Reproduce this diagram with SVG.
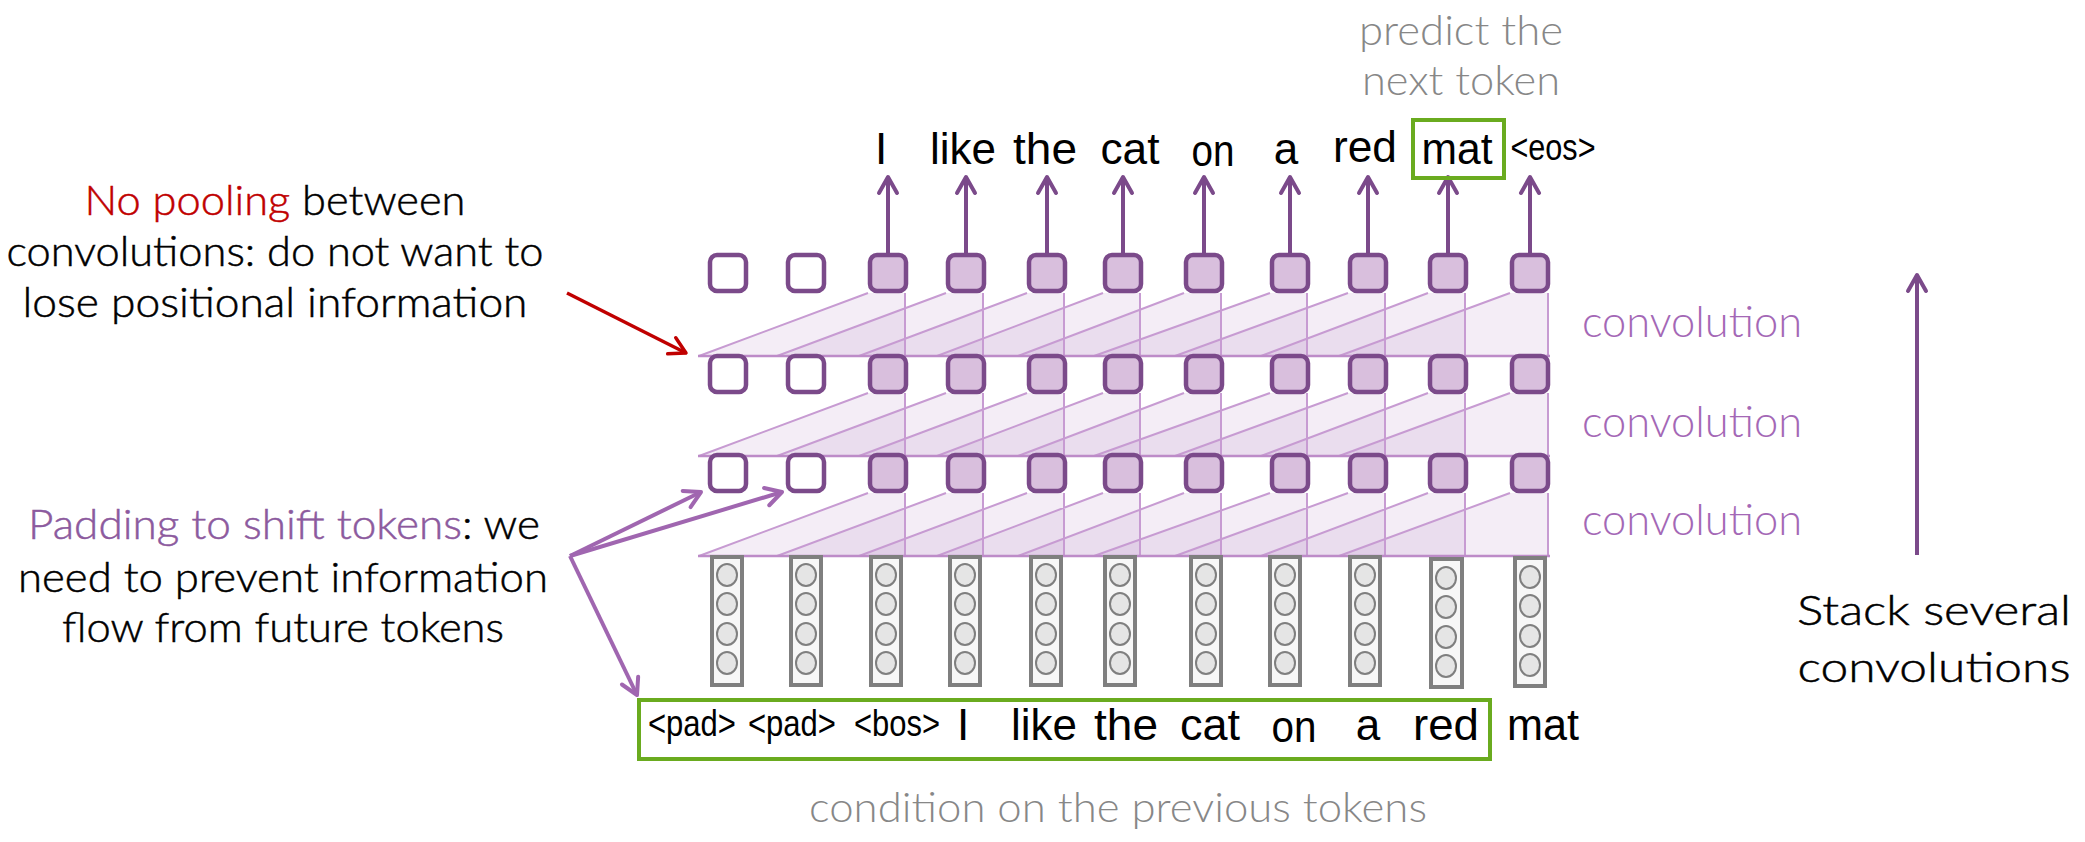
<svg xmlns="http://www.w3.org/2000/svg" width="2085" height="842" viewBox="0 0 2085 842">
<style>
.box{fill:#fff;stroke:#7b4a8a;stroke-width:4.5}
.f{fill:#d9bfdd}
.vec{fill:#f7f7f7;stroke:#7f7f7f;stroke-width:4}
.dot{fill:#e5e5e5;stroke:#7f7f7f;stroke-width:2}
.tok{font-family:"Liberation Sans",Arial,sans-serif;font-size:44px;fill:#000;text-anchor:middle}
.sm{font-size:36px}
.note{font-family:Lato,"Liberation Sans",sans-serif;font-size:42px;fill:#000;font-weight:300;stroke:#000;stroke-width:0.5}
.mid{text-anchor:middle}
.gray{fill:#878787;stroke:none}
.conv{fill:#a468b6;font-size:43px;stroke:none}
.fill{fill:#a86cb8;fill-opacity:0.12;stroke:none}
.edge{fill:none;stroke:#c79bd2;stroke-width:2}
.hline{fill:none;stroke:#bd8bc8;stroke-width:2.5}
.arr{fill:none;stroke:#7b4a8a;stroke-width:4}
.parr{fill:none;stroke:#a066b0;stroke-width:4}
.rarr{fill:none;stroke:#c00000;stroke-width:3.5}
.green{fill:none;stroke:#6aab1f;stroke-width:4}
</style>
<defs>
<marker id="ahP" viewBox="-20 -12 24 24" markerWidth="24" markerHeight="24" refX="0" refY="0" orient="auto" markerUnits="userSpaceOnUse"><path d="M-16,-9 L0,0 L-16,9" fill="none" stroke="#7b4a8a" stroke-width="4" stroke-linecap="round" stroke-linejoin="round"/></marker>
<marker id="ahL" viewBox="-20 -12 24 24" markerWidth="24" markerHeight="24" refX="0" refY="0" orient="auto" markerUnits="userSpaceOnUse"><path d="M-16,-9 L0,0 L-16,9" fill="none" stroke="#a066b0" stroke-width="4" stroke-linecap="round" stroke-linejoin="round"/></marker>
<marker id="ahR" viewBox="-20 -12 24 24" markerWidth="24" markerHeight="24" refX="0" refY="0" orient="auto" markerUnits="userSpaceOnUse"><path d="M-16,-9 L0,0 L-16,9" fill="none" stroke="#c00000" stroke-width="3.5" stroke-linecap="round" stroke-linejoin="round"/></marker>
<g id="band">
<polygon class="fill" points="868,0 905,0 905,63 699,63"/>
<polygon class="fill" points="946,0 983,0 983,63 777,63"/>
<polygon class="fill" points="1027,0 1064,0 1064,63 859,63"/>
<polygon class="fill" points="1103,0 1140,0 1140,63 937,63"/>
<polygon class="fill" points="1184,0 1221,0 1221,63 1018,63"/>
<polygon class="fill" points="1270,0 1307,0 1307,63 1094,63"/>
<polygon class="fill" points="1348,0 1385,0 1385,63 1175,63"/>
<polygon class="fill" points="1428,0 1465,0 1465,63 1261,63"/>
<polygon class="fill" points="1510,0 1548,0 1548,63 1339,63"/>
<path class="edge" d="M868,0 L699,63 M946,0 L777,63 M1027,0 L859,63 M1103,0 L937,63 M1184,0 L1018,63 M1270,0 L1094,63 M1348,0 L1175,63 M1428,0 L1261,63 M1510,0 L1339,63 M905,0 V63 M983,0 V63 M1064,0 V63 M1140,0 V63 M1221,0 V63 M1307,0 V63 M1385,0 V63 M1465,0 V63 M1548,0 V63"/>
<path class="hline" d="M698,63 H1550"/>
</g>
</defs>
<rect width="2085" height="842" fill="#fff"/>

<g id="connectors">
<use href="#band" y="293"/>
<use href="#band" y="393"/>
<use href="#band" y="493"/>
<path class="arr" marker-end="url(#ahP)" d="M888,253 V177"/>
<path class="arr" marker-end="url(#ahP)" d="M966,253 V177"/>
<path class="arr" marker-end="url(#ahP)" d="M1047,253 V177"/>
<path class="arr" marker-end="url(#ahP)" d="M1123,253 V177"/>
<path class="arr" marker-end="url(#ahP)" d="M1204,253 V177"/>
<path class="arr" marker-end="url(#ahP)" d="M1290,253 V177"/>
<path class="arr" marker-end="url(#ahP)" d="M1368,253 V177"/>
<path class="arr" marker-end="url(#ahP)" d="M1448,253 V177"/>
<path class="arr" marker-end="url(#ahP)" d="M1530,253 V177"/>
<path class="arr" marker-end="url(#ahP)" d="M1917,555 V275"/>
<path class="rarr" marker-end="url(#ahR)" d="M567,293 L686,353"/>
<path class="parr" marker-end="url(#ahL)" d="M570,556 L701,492"/>
<path class="parr" marker-end="url(#ahL)" d="M570,556 L782,492"/>
<path class="parr" marker-end="url(#ahL)" d="M570,556 L637,695"/>
</g>

<g id="row1">
<g id="r1n1"><rect class="box" x="710" y="255" width="36" height="36" rx="7"/></g>
<g id="r1n2"><rect class="box" x="788" y="255" width="36" height="36" rx="7"/></g>
<g id="r1n3"><rect class="box f" x="870" y="255" width="36" height="36" rx="7"/></g>
<g id="r1n4"><rect class="box f" x="948" y="255" width="36" height="36" rx="7"/></g>
<g id="r1n5"><rect class="box f" x="1029" y="255" width="36" height="36" rx="7"/></g>
<g id="r1n6"><rect class="box f" x="1105" y="255" width="36" height="36" rx="7"/></g>
<g id="r1n7"><rect class="box f" x="1186" y="255" width="36" height="36" rx="7"/></g>
<g id="r1n8"><rect class="box f" x="1272" y="255" width="36" height="36" rx="7"/></g>
<g id="r1n9"><rect class="box f" x="1350" y="255" width="36" height="36" rx="7"/></g>
<g id="r1n10"><rect class="box f" x="1430" y="255" width="36" height="36" rx="7"/></g>
<g id="r1n11"><rect class="box f" x="1512" y="255" width="36" height="36" rx="7"/></g>
</g>
<g id="row2">
<g id="r2n1"><rect class="box" x="710" y="356" width="36" height="36" rx="7"/></g>
<g id="r2n2"><rect class="box" x="788" y="356" width="36" height="36" rx="7"/></g>
<g id="r2n3"><rect class="box f" x="870" y="356" width="36" height="36" rx="7"/></g>
<g id="r2n4"><rect class="box f" x="948" y="356" width="36" height="36" rx="7"/></g>
<g id="r2n5"><rect class="box f" x="1029" y="356" width="36" height="36" rx="7"/></g>
<g id="r2n6"><rect class="box f" x="1105" y="356" width="36" height="36" rx="7"/></g>
<g id="r2n7"><rect class="box f" x="1186" y="356" width="36" height="36" rx="7"/></g>
<g id="r2n8"><rect class="box f" x="1272" y="356" width="36" height="36" rx="7"/></g>
<g id="r2n9"><rect class="box f" x="1350" y="356" width="36" height="36" rx="7"/></g>
<g id="r2n10"><rect class="box f" x="1430" y="356" width="36" height="36" rx="7"/></g>
<g id="r2n11"><rect class="box f" x="1512" y="356" width="36" height="36" rx="7"/></g>
</g>
<g id="row3">
<g id="r3n1"><rect class="box" x="710" y="455" width="36" height="36" rx="7"/></g>
<g id="r3n2"><rect class="box" x="788" y="455" width="36" height="36" rx="7"/></g>
<g id="r3n3"><rect class="box f" x="870" y="455" width="36" height="36" rx="7"/></g>
<g id="r3n4"><rect class="box f" x="948" y="455" width="36" height="36" rx="7"/></g>
<g id="r3n5"><rect class="box f" x="1029" y="455" width="36" height="36" rx="7"/></g>
<g id="r3n6"><rect class="box f" x="1105" y="455" width="36" height="36" rx="7"/></g>
<g id="r3n7"><rect class="box f" x="1186" y="455" width="36" height="36" rx="7"/></g>
<g id="r3n8"><rect class="box f" x="1272" y="455" width="36" height="36" rx="7"/></g>
<g id="r3n9"><rect class="box f" x="1350" y="455" width="36" height="36" rx="7"/></g>
<g id="r3n10"><rect class="box f" x="1430" y="455" width="36" height="36" rx="7"/></g>
<g id="r3n11"><rect class="box f" x="1512" y="455" width="36" height="36" rx="7"/></g>
</g>

<g id="embeddings">
<g id="v1"><rect class="vec" x="712" y="557" width="30" height="128"/><ellipse class="dot" cx="727" cy="575" rx="10" ry="11"/><ellipse class="dot" cx="727" cy="604" rx="10" ry="11"/><ellipse class="dot" cx="727" cy="634" rx="10" ry="11"/><ellipse class="dot" cx="727" cy="663" rx="10" ry="11"/></g>
<g id="v2"><rect class="vec" x="791" y="557" width="30" height="128"/><ellipse class="dot" cx="806" cy="575" rx="10" ry="11"/><ellipse class="dot" cx="806" cy="604" rx="10" ry="11"/><ellipse class="dot" cx="806" cy="634" rx="10" ry="11"/><ellipse class="dot" cx="806" cy="663" rx="10" ry="11"/></g>
<g id="v3"><rect class="vec" x="871" y="557" width="30" height="128"/><ellipse class="dot" cx="886" cy="575" rx="10" ry="11"/><ellipse class="dot" cx="886" cy="604" rx="10" ry="11"/><ellipse class="dot" cx="886" cy="634" rx="10" ry="11"/><ellipse class="dot" cx="886" cy="663" rx="10" ry="11"/></g>
<g id="v4"><rect class="vec" x="950" y="557" width="30" height="128"/><ellipse class="dot" cx="965" cy="575" rx="10" ry="11"/><ellipse class="dot" cx="965" cy="604" rx="10" ry="11"/><ellipse class="dot" cx="965" cy="634" rx="10" ry="11"/><ellipse class="dot" cx="965" cy="663" rx="10" ry="11"/></g>
<g id="v5"><rect class="vec" x="1031" y="557" width="30" height="128"/><ellipse class="dot" cx="1046" cy="575" rx="10" ry="11"/><ellipse class="dot" cx="1046" cy="604" rx="10" ry="11"/><ellipse class="dot" cx="1046" cy="634" rx="10" ry="11"/><ellipse class="dot" cx="1046" cy="663" rx="10" ry="11"/></g>
<g id="v6"><rect class="vec" x="1105" y="557" width="30" height="128"/><ellipse class="dot" cx="1120" cy="575" rx="10" ry="11"/><ellipse class="dot" cx="1120" cy="604" rx="10" ry="11"/><ellipse class="dot" cx="1120" cy="634" rx="10" ry="11"/><ellipse class="dot" cx="1120" cy="663" rx="10" ry="11"/></g>
<g id="v7"><rect class="vec" x="1191" y="557" width="30" height="128"/><ellipse class="dot" cx="1206" cy="575" rx="10" ry="11"/><ellipse class="dot" cx="1206" cy="604" rx="10" ry="11"/><ellipse class="dot" cx="1206" cy="634" rx="10" ry="11"/><ellipse class="dot" cx="1206" cy="663" rx="10" ry="11"/></g>
<g id="v8"><rect class="vec" x="1270" y="557" width="30" height="128"/><ellipse class="dot" cx="1285" cy="575" rx="10" ry="11"/><ellipse class="dot" cx="1285" cy="604" rx="10" ry="11"/><ellipse class="dot" cx="1285" cy="634" rx="10" ry="11"/><ellipse class="dot" cx="1285" cy="663" rx="10" ry="11"/></g>
<g id="v9"><rect class="vec" x="1350" y="557" width="30" height="128"/><ellipse class="dot" cx="1365" cy="575" rx="10" ry="11"/><ellipse class="dot" cx="1365" cy="604" rx="10" ry="11"/><ellipse class="dot" cx="1365" cy="634" rx="10" ry="11"/><ellipse class="dot" cx="1365" cy="663" rx="10" ry="11"/></g>
<g id="v10"><rect class="vec" x="1431" y="559" width="31" height="128"/><ellipse class="dot" cx="1446" cy="578" rx="10" ry="11"/><ellipse class="dot" cx="1446" cy="607" rx="10" ry="11"/><ellipse class="dot" cx="1446" cy="637" rx="10" ry="11"/><ellipse class="dot" cx="1446" cy="666" rx="10" ry="11"/></g>
<g id="v11"><rect class="vec" x="1515" y="558" width="30" height="128"/><ellipse class="dot" cx="1530" cy="577" rx="10" ry="11"/><ellipse class="dot" cx="1530" cy="606" rx="10" ry="11"/><ellipse class="dot" cx="1530" cy="636" rx="10" ry="11"/><ellipse class="dot" cx="1530" cy="665" rx="10" ry="11"/></g>
</g>

<g id="output-tokens">
<rect class="green" x="1413" y="120" width="91" height="58"/>
<text class="tok" x="881" y="164">I</text>
<text class="tok" x="963" y="164" textLength="66" lengthAdjust="spacingAndGlyphs">like</text>
<text class="tok" x="1045" y="164" textLength="64" lengthAdjust="spacingAndGlyphs">the</text>
<text class="tok" x="1130" y="164" textLength="59" lengthAdjust="spacingAndGlyphs">cat</text>
<text class="tok" x="1213" y="166" textLength="43" lengthAdjust="spacingAndGlyphs">on</text>
<text class="tok" x="1286" y="164">a</text>
<text class="tok" x="1365" y="162" textLength="64" lengthAdjust="spacingAndGlyphs">red</text>
<text class="tok" x="1457" y="164" textLength="71" lengthAdjust="spacingAndGlyphs">mat</text>
<text class="tok sm" x="1553" y="160" textLength="85" lengthAdjust="spacingAndGlyphs">&lt;eos&gt;</text>
</g>

<g id="input-tokens">
<rect class="green" x="639" y="700" width="851" height="59"/>
<text class="tok sm" x="692" y="736" textLength="88" lengthAdjust="spacingAndGlyphs">&lt;pad&gt;</text>
<text class="tok sm" x="792" y="736" textLength="88" lengthAdjust="spacingAndGlyphs">&lt;pad&gt;</text>
<text class="tok sm" x="897" y="736" textLength="86" lengthAdjust="spacingAndGlyphs">&lt;bos&gt;</text>
<text class="tok" x="963" y="740">I</text>
<text class="tok" x="1044" y="740" textLength="66" lengthAdjust="spacingAndGlyphs">like</text>
<text class="tok" x="1126" y="740" textLength="64" lengthAdjust="spacingAndGlyphs">the</text>
<text class="tok" x="1210" y="740" textLength="60" lengthAdjust="spacingAndGlyphs">cat</text>
<text class="tok" x="1294" y="742" textLength="45" lengthAdjust="spacingAndGlyphs">on</text>
<text class="tok" x="1368" y="740">a</text>
<text class="tok" x="1446" y="740" textLength="66" lengthAdjust="spacingAndGlyphs">red</text>
<text class="tok" x="1543" y="740" textLength="72" lengthAdjust="spacingAndGlyphs">mat</text>
</g>

<g id="labels">
<text class="note gray mid" x="1461" y="45" textLength="204" lengthAdjust="spacingAndGlyphs">predict the</text>
<text class="note gray mid" x="1461" y="95" textLength="198" lengthAdjust="spacingAndGlyphs">next token</text>
<text class="note gray mid" x="1118" y="822" textLength="618" lengthAdjust="spacingAndGlyphs">condition on the previous tokens</text>
<text class="note conv" x="1582" y="337" textLength="220" lengthAdjust="spacingAndGlyphs">convolution</text>
<text class="note conv" x="1582" y="437" textLength="220" lengthAdjust="spacingAndGlyphs">convolution</text>
<text class="note conv" x="1582" y="535" textLength="220" lengthAdjust="spacingAndGlyphs">convolution</text>
<text class="note mid" x="1934" y="625" font-size="46" textLength="274" lengthAdjust="spacingAndGlyphs">Stack several</text>
<text class="note mid" x="1934" y="682" font-size="46" textLength="273" lengthAdjust="spacingAndGlyphs">convolutions</text>
</g>

<g id="note-pooling">
<text class="note mid" x="275" y="215" textLength="381" lengthAdjust="spacingAndGlyphs"><tspan fill="#c00000" stroke="#c00000">No pooling</tspan> between</text>
<text class="note mid" x="275" y="266" textLength="537" lengthAdjust="spacingAndGlyphs">convolutions: do not want to</text>
<text class="note mid" x="275" y="317" textLength="505" lengthAdjust="spacingAndGlyphs">lose positional information</text>
</g>

<g id="note-padding">
<text class="note mid" x="284" y="539" textLength="512" lengthAdjust="spacingAndGlyphs"><tspan fill="#8c5a9e" stroke="#8c5a9e">Padding to shift tokens</tspan>: we</text>
<text class="note mid" x="283" y="592" textLength="530" lengthAdjust="spacingAndGlyphs">need to prevent information</text>
<text class="note mid" x="283" y="642" textLength="442" lengthAdjust="spacingAndGlyphs">flow from future tokens</text>
</g>
</svg>
